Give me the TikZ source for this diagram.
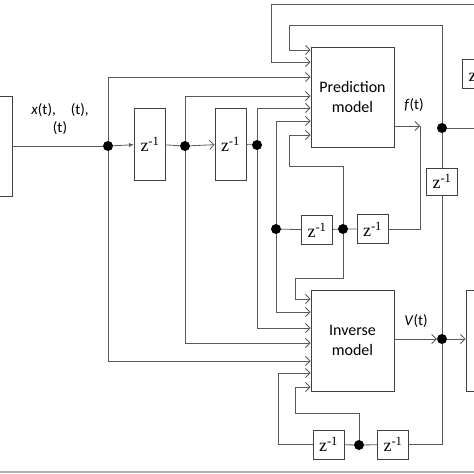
\documentclass[tikz,border=0pt]{standalone}
\usepackage{fontspec}
\setmainfont{Carlito}
\newfontfamily\zfont{Liberation Serif}
\usetikzlibrary{arrows.meta,calc}
\newcommand{\zinv}{{\zfont z\textsuperscript{-1}}}

\begin{document}
\begin{tikzpicture}[x=1pt,y=-1pt,
    >={Straight Barb[length=4.5pt,width=9pt]},
    block/.style={draw=black!75,line width=0.9pt,fill=white,inner sep=0pt,align=center,
      font=\fontsize{16}{20}\selectfont},
    delay/.style={block,minimum width=31pt,minimum height=29pt,font=\fontsize{18}{20}\selectfont},
    dot/.style={circle,fill=black,inner sep=0pt,minimum size=10pt},
    wire/.style={draw=black!65,line width=0.8pt},
    lbl/.style={font=\fontsize{15}{18}\selectfont}]
  \useasboundingbox (0,0) rectangle (474,474);
  % blocks
  \node[block,minimum width=52pt,minimum height=100pt] (src) at (-14,146) {};
  \node[block,minimum width=83pt,minimum height=100pt] (pred) at (352.5,97) {Prediction\\model};
  \node[block,minimum width=83pt,minimum height=101pt] (inv) at (352.5,340.5) {Inverse\\model};
  \node[block,minimum width=54pt,minimum height=101pt] (out) at (493,340.5) {};
  % delays
  \node[delay,minimum height=72pt] (za) at (150,144) {\zinv};
  \node[delay,minimum height=72pt] (zb) at (230.5,144) {\zinv};
  \node[delay] (zc) at (372.5,229) {\zinv};
  \node[delay] (zd) at (317,230) {\zinv};
  \node[delay,minimum height=27pt] (ze) at (442,181.5) {\zinv};
  \node[delay] (zt) at (478,74) {\zinv};
  \node[delay] (zf) at (393,444.5) {\zinv};
  \node[delay] (zg) at (328.5,444.5) {\zinv};
  % junctions
  \node[dot] (d1) at (108,146) {};
  \node[dot] (d2) at (185,146) {};
  \node[dot] (d3) at (257,145) {};
  \node[dot] (d4) at (343,229) {};
  \node[dot] (d5) at (276,229) {};
  \node[dot] (d6) at (442,128) {};
  \node[dot] (d7) at (442,339) {};
  \node[dot] (d8) at (359,445) {};
  % inputs of the two models
  \foreach \n/\y in {1/50,2/62,3/77,4/96,5/108,6/121,7/135}
    \coordinate (p\n) at (pred.west |- 0,\y);
  \foreach \n/\y in {1/299,2/312,3/328,4/343,5/361,6/373,7/387}
    \coordinate (q\n) at (inv.west |- 0,\y);
  \coordinate (tr) at (480,4);
  \coordinate (rt) at (480,128);
  \coordinate (fc) at (420,126);
  % labels
  \node[lbl] (flbl) at (414,105) {\textit{f}(t)};
  \node[lbl] (vlbl) at (416,321) {\textit{V}(t)};
  \node[lbl,align=center] (xlbl) at (60,119) {\textit{x}(t),\hspace{1em}(t),\\(t)};
  % signal chain
  \draw[wire] (src.east |- d1) -- (d1);
  \draw[wire,-{Latex[length=5pt,width=4pt]}] (d1) -- (za);
  \draw[wire] (za) -- (d2);
  \draw[wire,->] (d2) -- (zb);
  \draw[wire] (zb) -- (d3);
  % to the prediction model
  \draw[wire,->] (tr) -| ($(p2)+(-39,0)$) -- (p2);
  \draw[wire,->] (ze) -- (d6) |- (289,25) |- (p1);
  \draw[wire] (d6) -- (rt);
  \draw[wire,->] (d1) |- (p3);
  \draw[wire,->] (d2) |- (p4);
  \draw[wire,->] (d3) |- (p5);
  \draw[wire,->] (d5) |- (p6);
  \draw[wire,->] (d4) |- (289,166) |- (p7);
  % prediction output
  \draw[wire,->] (pred.east |- fc) -- (fc);
  \draw[wire] (fc) |- (zc);
  \draw[wire] (zc) -- (d4) -- (zd) -- (d5);
  % to the inverse model
  \draw[wire,->] (d1) |- (q5);
  \draw[wire,->] (d2) |- (q4);
  \draw[wire,->] (d3) |- (q3);
  \draw[wire,->] (d5) |- (q2);
  \draw[wire,->] (d4) |- (295,278) |- (q1);
  \draw[wire,->] (d8) |- (295,413) |- (q7);
  \draw[wire,->] (zg) -| (278,373) -- (q6);
  % inverse output
  \draw[wire,->] (inv.east |- d7) -- (d7);
  \draw[wire,->] (d7) -- (out.west |- d7);
  \draw[wire] (ze) -- (d7);
  \draw[wire] (d7) |- (zf);
  \draw[wire] (zf) -- (d8) -- (zg);
  \draw[black!30,line width=2pt] (0,472) -- (474,472);
\end{tikzpicture}
\end{document}
